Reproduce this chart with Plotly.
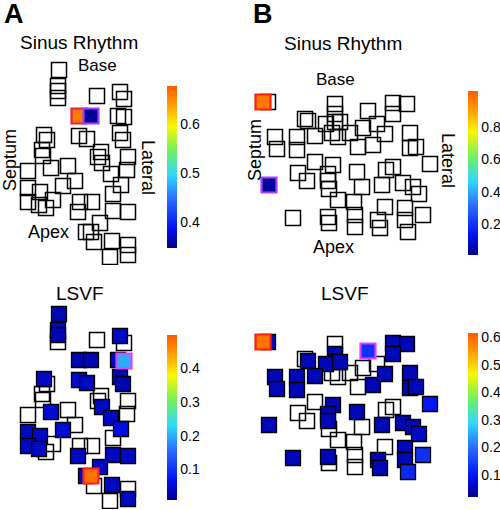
import plotly.graph_objects as go

W, H = 500, 510
FONT = "Liberation Sans, Arial, sans-serif"

# ---------------- Panel A electrodes (positions) ----------------
A_x = [59, 58, 58, 58, 97, 120, 124, 79, 91, 118, 124, 44, 47, 79, 87, 120, 123, 42, 43,
       98, 101, 102, 128, 51, 28, 68, 75, 63, 111, 127, 121, 113, 28, 40, 28, 39, 46, 53,
       78, 80, 92, 113, 128, 100, 86, 91, 94, 112, 128, 128, 110]
A_y = [70, 86, 91, 98, 96, 92, 99, 116, 116, 116, 117, 135, 140, 136, 139, 133, 140, 150, 156,
       157, 152, 163, 157, 168, 171, 166, 181, 186, 174, 170, 185, 194, 188, 192, 202, 205, 208, 200,
       212, 202, 202, 211, 212, 223, 232, 232, 242, 241, 245, 255, 257]
N = None
A_sr = [N] * len(A_x)
A_sr[7] = 0.66
A_sr[8] = 0.35
A_lsvf = [0.03, 0.04, 0.03, N, N, 0.04, N, 0.03, 0.03, 0.04, 0.20, 0.04, N, 0.05, 0.04, 0.03, 0.03, N, N,
          N, N, 0.04, N, 0.05, N, N, N, 0.05, 0.04, N, 0.06, N, 0.04, 0.04, 0.04, 0.04, N, N,
          0.04, N, N, 0.04, 0.04, 0.04, 0.04, 0.48, N, 0.04, N, 0.04, N]

# ---------------- Panel B electrodes ----------------
B_x = [268, 263, 269, 335, 335, 335, 305, 308, 326, 340, 368, 377, 393, 407, 393, 275, 277, 297, 297,
       315, 332, 338, 350, 363, 358, 373, 385, 410, 410, 416, 430, 315, 333, 298, 307, 328, 328, 329,
       357, 362, 386, 393, 382, 403, 413, 419, 338, 293, 328, 329, 354, 355, 355, 385, 378, 380,
       405, 405, 408, 423]
B_y = [102, 102, 185, 104, 114, 122, 119, 121, 124, 122, 111, 124, 103, 104, 114, 137, 149, 137, 150,
       136, 133, 137, 133, 128, 147, 145, 134, 133, 148, 147, 164, 162, 165, 173, 181, 174, 181, 189,
       172, 187, 170, 167, 185, 183, 187, 194, 200, 218, 217, 223, 202, 215, 227, 207, 220, 228,
       208, 220, 232, 215]
B_sr = [N] * len(B_x)
B_sr[1] = 0.97
B_sr[2] = 0.03
B_lsvf = [0.05, 0.59, 0.05, N, 0.05, 0.05, N, 0.05, 0.05, 0.05, 0.13, N, 0.05, 0.05, 0.05, 0.05, 0.05, 0.05, 0.05,
          0.05, N, N, N, N, N, 0.05, 0.05, 0.05, 0.05, 0.05, 0.10, N, 0.05, N, N, 0.05, 0.05, N,
          0.05, N, N, N, 0.05, 0.05, 0.05, 0.06, N, 0.05, 0.05, N, N, N, N, N, 0.05, 0.05,
          0.05, 0.05, 0.12, 0.13]

# highlighted electrodes (index -> edge colour)
A_SR_HL = {7: "#e8204a", 8: "#a040ff"}
A_LSVF_HL = {10: "#e040ff", 45: "#ff2020"}
B_SR_HL = {1: "#ff2010", 2: "#b040ff"}
B_LSVF_HL = {1: "#ff2010", 10: "#e040ff"}

COLORSCALE = [[0.0, "#00008c"], [0.12, "#0010f0"], [0.3, "#2a6cff"], [0.45, "#30d8ff"],
              [0.6, "#70f060"], [0.75, "#f8f800"], [0.88, "#ffa000"], [1.0, "#ff5a00"]]

fig = go.Figure()


def px_x(p):
    return p / W


def px_y(p):
    return 1 - p / H


def add_panel(xs, ys, vals, hl, xa, ya, cmin, cmax, ticks, cb_left, cb_top, cb_bot):
    ox = [x for x, v in zip(xs, vals) if v is None]
    oy = [y for y, v in zip(ys, vals) if v is None]
    fig.add_trace(go.Scatter(x=ox, y=oy, mode="markers", xaxis=xa, yaxis=ya,
                             marker=dict(symbol="square-open", size=15, color="black",
                                         line=dict(width=1.5, color="black")),
                             showlegend=False, hoverinfo="skip"))
    idx = [i for i, v in enumerate(vals) if v is not None]
    idx = [i for i in idx if i not in hl] + [i for i in idx if i in hl]
    fig.add_trace(go.Scatter(
        x=[xs[i] for i in idx], y=[ys[i] for i in idx], mode="markers", xaxis=xa, yaxis=ya,
        marker=dict(symbol="square", size=15, color=[vals[i] for i in idx],
                    colorscale=COLORSCALE, cmin=cmin, cmax=cmax,
                    line=dict(width=[2.2 if i in hl else 1.3 for i in idx],
                              color=[hl.get(i, "black") for i in idx]),
                    colorbar=dict(x=px_x(cb_left), xanchor="left", xpad=0, ypad=0,
                                  y=px_y((cb_top + cb_bot) / 2), yanchor="middle",
                                  len=cb_bot - cb_top, lenmode="pixels", thickness=10,
                                  outlinewidth=0, tickvals=ticks, ticks="",
                                  tickfont=dict(family=FONT, size=14, color="black"))),
        showlegend=False, hoverinfo="skip"))


# panel A top / bottom, panel B top / bottom
add_panel(A_x, A_y, A_sr, A_SR_HL, "x", "y", 0.347, 0.678, [0.4, 0.5, 0.6], 167, 86, 248)
add_panel(A_x, A_y, A_lsvf, A_LSVF_HL, "x3", "y3", 0.008, 0.50, [0.1, 0.2, 0.3, 0.4], 167, 335, 500)
add_panel(B_x, B_y, B_sr, B_SR_HL, "x2", "y2", 0.01, 1.02, [0.2, 0.4, 0.6, 0.8], 468, 91, 255)
add_panel(B_x, B_y, B_lsvf, B_LSVF_HL, "x4", "y4", 0.02, 0.615, [0.1, 0.2, 0.3, 0.4, 0.5, 0.6], 468, 333, 497)

ax = dict(visible=False, fixedrange=True)
A_OFF, B_OFF = 244, 240
fig.update_layout(
    width=W, height=H, margin=dict(l=0, r=0, t=0, b=0),
    paper_bgcolor="white", plot_bgcolor="rgba(0,0,0,0)",
    xaxis=dict(ax, domain=[10 / W, 150 / W], range=[10, 150]),
    yaxis=dict(ax, domain=[px_y(265), px_y(50)], range=[265, 50]),
    xaxis2=dict(ax, domain=[250 / W, 440 / W], range=[250, 440]),
    yaxis2=dict(ax, domain=[px_y(265), px_y(50)], range=[265, 50]),
    xaxis3=dict(ax, domain=[10 / W, 150 / W], range=[10, 150]),
    yaxis3=dict(ax, domain=[px_y(265 + A_OFF), px_y(50 + A_OFF)], range=[265, 50]),
    xaxis4=dict(ax, domain=[250 / W, 440 / W], range=[250, 440]),
    yaxis4=dict(ax, domain=[px_y(265 + B_OFF), px_y(50 + B_OFF)], range=[265, 50]),
)


def label(text, x, y, size=18, angle=0, bold=False):
    fig.add_annotation(text=f"<b>{text}</b>" if bold else text, x=px_x(x), y=px_y(y),
                       xref="paper", yref="paper", showarrow=False, textangle=angle,
                       xanchor="center", yanchor="middle",
                       font=dict(family=FONT, size=size, color="black"))


label("A", 14, 14, size=27, bold=True)
label("B", 263, 14, size=27, bold=True)
label("Sinus Rhythm", 79, 42, size=19)
label("Sinus Rhythm", 343, 43, size=19)
label("Base", 97, 66, size=17)
label("Base", 335, 79, size=17)
label("Septum", 10, 160, size=18, angle=-90)
label("Septum", 255, 150, size=18, angle=-90)
label("Lateral", 148, 167, size=18, angle=90)
label("Lateral", 448, 160, size=18, angle=90)
label("Apex", 48, 232, size=18)
label("Apex", 333, 247, size=18)
label("LSVF", 80, 293, size=19)
label("LSVF", 345, 293, size=19)

fig.write_html("out.html", config={"displayModeBar": False},
               post_script="document.body.style.margin='0px';")
